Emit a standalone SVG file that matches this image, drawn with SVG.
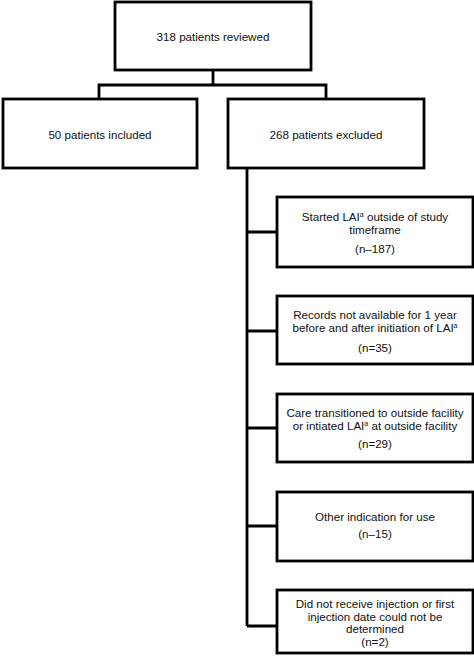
<svg xmlns="http://www.w3.org/2000/svg" width="474" height="661" viewBox="0 0 474 661">
<style>
.box{fill:#fff;stroke:#000;stroke-width:2.8}
.ln{fill:none;stroke:#000;stroke-width:2.8}
text{font-family:"Liberation Sans",Arial,sans-serif;font-size:11.6px;fill:#111;text-anchor:middle}
.sup{font-size:7px}
</style>
<rect width="474" height="661" fill="#fff"/>
<g id="connectors">
<path class="ln" d="M213 70V85M99 99V85H326V99"/>
<path class="ln" d="M247 168V626"/>
<path class="ln" d="M247 232H277M247 331H277M247 428H277M247 526H277M247 626H277"/>
</g>
<g id="n-reviewed"><rect class="box" x="115" y="2" width="196" height="68"/><text x="213" y="41">318 patients reviewed</text></g>
<g id="n-included"><rect class="box" x="3" y="99" width="194" height="69"/><text x="100" y="139">50 patients included</text></g>
<g id="n-excluded"><rect class="box" x="228" y="99" width="196" height="69"/><text x="326" y="139">268 patients excluded</text></g>
<g id="n-timeframe"><rect class="box" x="277" y="197" width="196" height="70"/>
<text x="375" y="221">Started LAI<tspan class="sup" dy="-4">a</tspan><tspan dy="4"> outside of study</tspan></text>
<text x="375" y="234">timeframe</text>
<text x="375" y="253">(n–187)</text></g>
<g id="n-records"><rect class="box" x="277" y="296" width="196" height="68"/>
<text x="375" y="319">Records not available for 1 year</text>
<text x="375" y="332">before and after initiation of LAI<tspan class="sup" dy="-4">a</tspan></text>
<text x="375" y="352">(n=35)</text></g>
<g id="n-care"><rect class="box" x="277" y="394" width="196" height="68"/>
<text x="375" y="417">Care transitioned to outside facility</text>
<text x="375" y="430">or intiated LAI<tspan class="sup" dy="-4">a</tspan><tspan dy="4"> at outside facility</tspan></text>
<text x="375" y="448">(n=29)</text></g>
<g id="n-other"><rect class="box" x="277" y="492" width="196" height="69"/>
<text x="375" y="521">Other indication for use</text>
<text x="375" y="538">(n–15)</text></g>
<g id="n-injection"><rect class="box" x="277" y="590" width="196" height="63"/>
<text x="375" y="608">Did not receive injection or first</text>
<text x="375" y="621">injection date could not be</text>
<text x="375" y="633">determined</text>
<text x="375" y="646">(n=2)</text></g>
</svg>
